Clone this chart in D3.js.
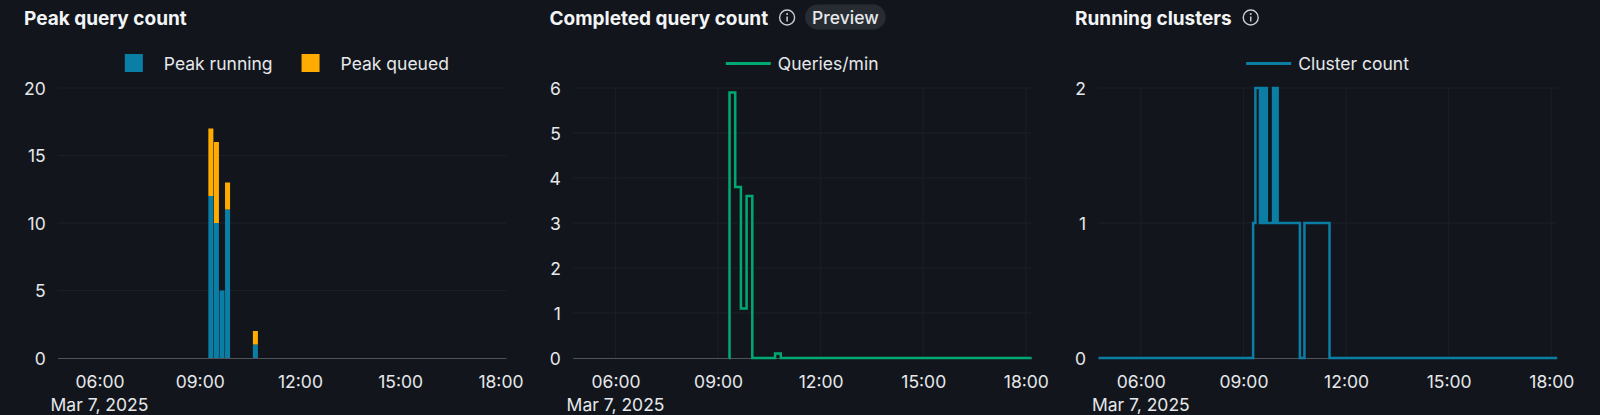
<!DOCTYPE html>
<html>
<head>
<meta charset="utf-8">
<script src="https://cdn.jsdelivr.net/npm/d3@7"></script>
<style>
  html, body { margin: 0; padding: 0; background: #12161c; }
  svg { display: block; }
  text { font-family: Inter, "Noto Sans", sans-serif; }
</style>
</head>
<body>
<svg id="chart" width="1600" height="415"></svg>
<script>
// ---------------- DATA ----------------
const dayStr = "2025-03-07";
const domainStart = "04:45";
const domainEnd = "18:10";
const xTickLabels = ["06:00", "09:00", "12:00", "15:00", "18:00"];
const dateLabel = "Mar 7, 2025";

// Panel 1: Peak query count (10-minute bins)
const peakTimes = ["09:20", "09:30", "09:40", "09:50", "10:40"];
const peakRunning = [12, 10, 5, 11, 1];
const peakQueued = [5, 6, 0, 2, 1];
const peakYTicks = [0, 5, 10, 15, 20];

// Panel 2: Completed query count (queries/min, 10-minute bins)
const qpmTimes = ["09:19", "09:20", "09:30", "09:40", "09:50", "10:00", "10:40", "10:50", "18:10"];
const qpmValues = [0, 5.9, 3.8, 1.1, 3.6, 0, 0.1, 0, 0];
const qpmYTicks = [0, 1, 2, 3, 4, 5, 6];

// Panel 3: Running clusters
const clusterTimes = ["04:46", "09:17", "09:21", "09:29", "09:30", "09:31", "09:32", "09:33", "09:34",
  "09:35", "09:36", "09:37", "09:38", "09:39", "09:40", "09:41",
  "09:52", "09:53", "09:54", "09:55", "09:56", "09:57", "09:58", "10:00",
  "10:39", "10:47", "11:31", "18:10"];
const clusterValues = [0, 1, 2, 1, 2, 1, 2, 1, 2,
  1, 2, 1, 2, 1, 2, 1,
  2, 1, 2, 1, 2, 1, 2, 1,
  0, 1, 0, 0];
const clusterYTicks = [0, 1, 2];

// ---------------- STYLE ----------------
const C = {
  bg: "#12161c",
  text: "#e6e8eb",
  title: "#f2f4f6",
  grid: "#1a1f26",
  axis: "#4e535a",
  blue: "#0b7ea6",
  orange: "#ffab00",
  green: "#00a972",
  badge: "#272c33"
};
const FS = 17.5;
const TFS = 19;
const yTop = 88, yBottom = 358;

const parseT = d3.timeParse("%Y-%m-%d %H:%M");
const T = s => parseT(dayStr + " " + s);

const svg = d3.select("#chart");
svg.append("rect").attr("width", 1600).attr("height", 415).attr("fill", C.bg);

function measure(str, size, weight) {
  const t = svg.append("text").attr("font-size", size).attr("font-weight", weight || 400).text(str);
  const w = t.node().getComputedTextLength();
  t.remove();
  return w;
}

function infoIcon(g, cx, cy) {
  g.append("circle").attr("cx", cx).attr("cy", cy).attr("r", 7.5)
    .attr("fill", "none").attr("stroke", "#c9ccd0").attr("stroke-width", 1.4);
  g.append("circle").attr("cx", cx).attr("cy", cy - 3.4).attr("r", 1).attr("fill", "#c9ccd0");
  g.append("line").attr("x1", cx).attr("x2", cx).attr("y1", cy - 1).attr("y2", cy + 4)
    .attr("stroke", "#c9ccd0").attr("stroke-width", 1.5);
}

function makePanel(i, opts) {
  const left = 24 + i * 525.5;
  const right = left + 482;
  const g = svg.append("g");

  // title
  const title = g.append("text").attr("x", left).attr("y", 24.5)
    .attr("font-size", TFS).attr("font-weight", 700).attr("fill", C.title).text(opts.title);
  const tw = title.node().getComputedTextLength();
  if (opts.info) infoIcon(g, left + tw + 19, 17.5);
  if (opts.badge) {
    const bx = left + tw + 37;
    const bw = measure(opts.badge, FS, 500) + 14;
    g.append("rect").attr("x", bx).attr("y", 4.5).attr("width", bw).attr("height", 25)
      .attr("rx", 12.5).attr("fill", C.badge);
    g.append("text").attr("x", bx + bw / 2).attr("y", 23.5).attr("text-anchor", "middle")
      .attr("font-size", FS).attr("font-weight", 500).attr("fill", C.text).text(opts.badge);
  }

  // y label width
  const maxW = d3.max(opts.yTicks, v => measure(String(v), FS, 400));
  const plotL = left + maxW + 12;

  const x = d3.scaleTime().domain([T(domainStart), T(domainEnd)]).range([plotL, right]);
  const y = d3.scaleLinear().domain([0, d3.max(opts.yTicks)]).range([yBottom, yTop]);

  // horizontal grid
  g.append("g").selectAll("line").data(opts.yTicks.filter(v => v > 0)).join("line")
    .attr("x1", plotL).attr("x2", right).attr("y1", d => y(d)).attr("y2", d => y(d))
    .attr("stroke", C.grid).attr("stroke-width", 1);
  // vertical grid
  const tickDates = xTickLabels.map(T);
  if (opts.vgrid) {
    g.append("g").selectAll("line").data(tickDates).join("line")
      .attr("x1", d => x(d)).attr("x2", d => x(d)).attr("y1", yTop).attr("y2", yBottom)
      .attr("stroke", C.grid).attr("stroke-width", 1);
  }

  // y axis labels
  const yAxis = d3.axisLeft(y).tickValues(opts.yTicks).tickSize(0).tickPadding(12)
    .tickFormat(d3.format("d"));
  const ya = g.append("g").attr("transform", `translate(${plotL},0)`).call(yAxis);
  ya.select(".domain").remove();
  ya.selectAll("text").attr("font-size", FS).attr("fill", C.text)
    .attr("font-family", "Inter, 'Noto Sans', sans-serif").attr("dy", "0.36em");

  // x axis
  const xAxis = d3.axisBottom(x).tickValues(tickDates).tickSize(0).tickPadding(0)
    .tickFormat(d3.timeFormat("%H:%M"));
  const xa = g.append("g").attr("transform", `translate(0,${yBottom})`).call(xAxis);
  xa.select(".domain").attr("stroke", C.axis).attr("stroke-width", 1.2);
  xa.selectAll("text").attr("font-size", FS).attr("fill", C.text)
    .attr("font-family", "Inter, 'Noto Sans', sans-serif").attr("y", 30).attr("dy", 0);
  g.append("text").attr("x", x(tickDates[0])).attr("y", 411).attr("text-anchor", "middle")
    .attr("font-size", FS).attr("fill", C.text).text(dateLabel);

  return { g, x, y, plotL, right };
}

function legendLine(p, label, color) {
  const tw = measure(label, FS, 400);
  const total = 45 + 7 + tw;
  const lx = (p.plotL + p.right) / 2 - total / 2;
  p.g.append("line").attr("x1", lx).attr("x2", lx + 45).attr("y1", 63.5).attr("y2", 63.5)
    .attr("stroke", color).attr("stroke-width", 3);
  p.g.append("text").attr("x", lx + 52).attr("y", 70).attr("font-size", FS).attr("fill", C.text).text(label);
}

// ---------------- PANEL 1 ----------------
{
  const p = makePanel(0, { title: "Peak query count", yTicks: peakYTicks, vgrid: false });
  const bins = peakTimes.map((t, k) => ({ t: T(t), run: peakRunning[k], q: peakQueued[k] }));
  const bw = (p.x(d3.timeMinute.offset(T("09:00"), 10)) - p.x(T("09:00"))) * 0.9;
  p.g.append("g").selectAll("rect").data(bins).join("rect")
    .attr("x", d => p.x(d.t) - bw / 2).attr("width", bw)
    .attr("y", d => p.y(d.run)).attr("height", d => p.y(0) - p.y(d.run))
    .attr("fill", C.blue);
  p.g.append("g").selectAll("rect").data(bins.filter(d => d.q > 0)).join("rect")
    .attr("x", d => p.x(d.t) - bw / 2).attr("width", bw)
    .attr("y", d => p.y(d.run + d.q)).attr("height", d => p.y(d.run) - p.y(d.run + d.q))
    .attr("fill", C.orange);

  // legend
  const items = [["Peak running", C.blue], ["Peak queued", C.orange]];
  const widths = items.map(d => 18 + 21 + measure(d[0], FS, 400));
  const total = d3.sum(widths) + 29 * (items.length - 1);
  let lx = (p.plotL + p.right) / 2 - total / 2 + 5;
  items.forEach((d, k) => {
    p.g.append("rect").attr("x", lx).attr("y", 54).attr("width", 18).attr("height", 18).attr("fill", d[1]);
    p.g.append("text").attr("x", lx + 39).attr("y", 70).attr("font-size", FS).attr("fill", C.text).text(d[0]);
    lx += widths[k] + 29;
  });
}

// ---------------- PANEL 2 ----------------
{
  const p = makePanel(1, { title: "Completed query count", info: true, badge: "Preview", yTicks: qpmYTicks, vgrid: true });
  const pts = qpmTimes.map((t, k) => [T(t), qpmValues[k]]);
  const line = d3.line().x(d => p.x(d[0])).y(d => p.y(d[1])).curve(d3.curveStepAfter);
  p.g.append("path").datum(pts).attr("d", line).attr("fill", "none")
    .attr("stroke", C.green).attr("stroke-width", 2.5).attr("stroke-linejoin", "miter");
  legendLine(p, "Queries/min", C.green);
}

// ---------------- PANEL 3 ----------------
{
  const p = makePanel(2, { title: "Running clusters", info: true, yTicks: clusterYTicks, vgrid: true });
  const pts = clusterTimes.map((t, k) => [T(t), clusterValues[k]]);
  const line = d3.line().x(d => p.x(d[0])).y(d => p.y(d[1])).curve(d3.curveStepAfter);
  p.g.append("path").datum(pts).attr("d", line).attr("fill", "none")
    .attr("stroke", C.blue).attr("stroke-width", 2.5).attr("stroke-linejoin", "miter");
  legendLine(p, "Cluster count", C.blue);
}
</script>
</body>
</html>
